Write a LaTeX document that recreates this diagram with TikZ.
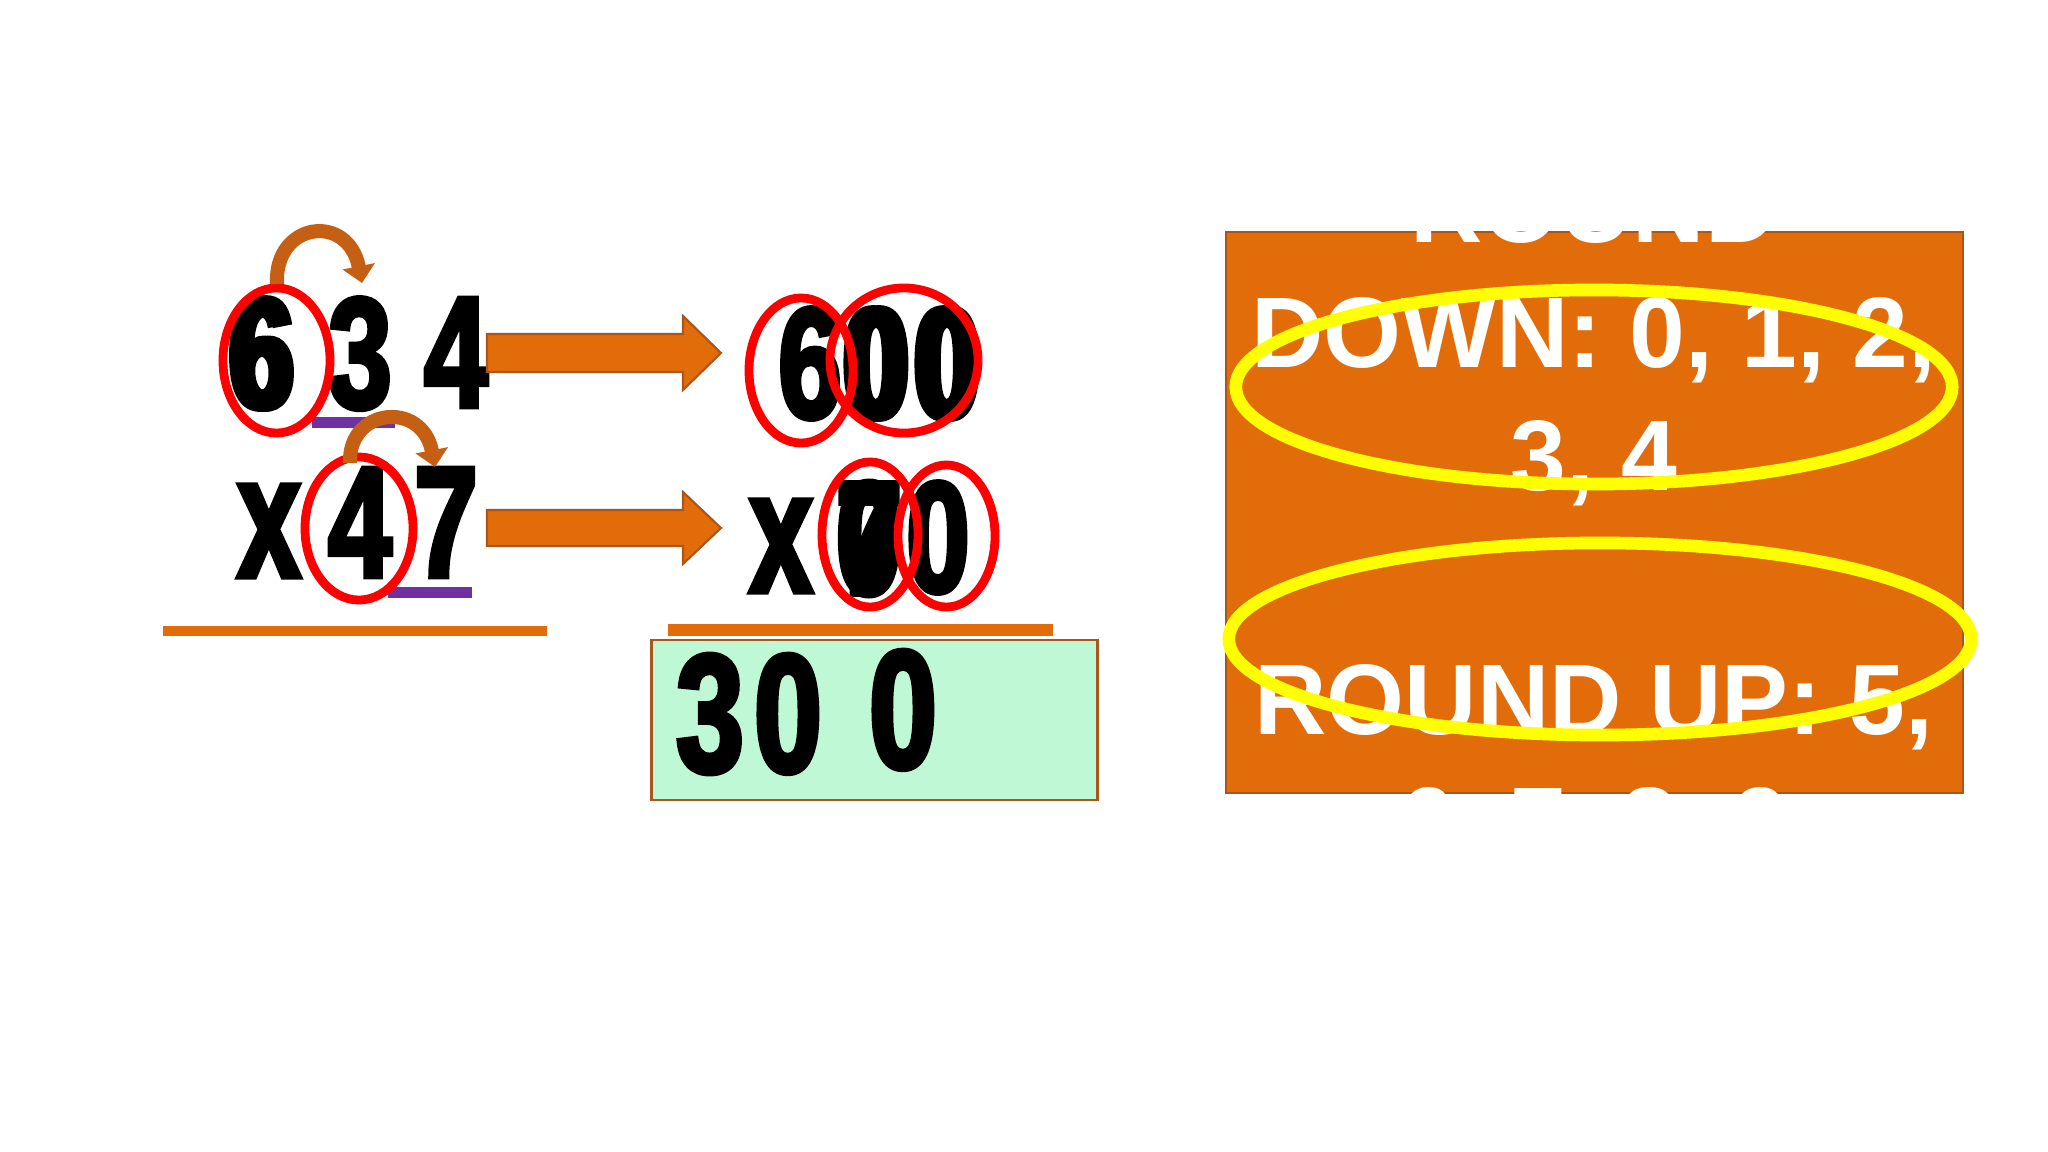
\documentclass[tikz,border=0pt]{standalone}
\usepackage{fontspec}
\usetikzlibrary{arrows.meta,calc}
\newfontfamily\impfont{Liberation Sans}[FakeStretch=0.72, BoldFeatures={FakeBold=3}]
\newfontfamily\impheavy{Liberation Sans}[FakeStretch=0.72, BoldFeatures={FakeBold=5}]
\newfontfamily\arialfont{Liberation Sans}
\definecolor{orng}{RGB}{227,108,10}
\definecolor{orngdark}{RGB}{170,85,25}
\definecolor{brn}{RGB}{197,95,20}
\definecolor{purp}{RGB}{112,48,160}
\definecolor{mint}{RGB}{190,248,212}
\definecolor{yell}{RGB}{255,255,0}
\tikzset{
  dig/.style={font=\impfont\bfseries\fontsize{45}{45}\selectfont, inner sep=0pt, anchor=base, text=black},
  heavydig/.style={dig, font=\impheavy\bfseries\fontsize{45}{45}\selectfont},
  bigdig/.style={dig, font=\impfont\bfseries\fontsize{48}{48}\selectfont},
  rtxt/.style={text=white, font=\arialfont\bfseries\fontsize{28.5}{34}\selectfont, inner sep=0pt, anchor=base},
  redell/.style={draw=red, line width=2.5pt},
  yellell/.style={draw=yell, line width=3.6pt},
  barrow/.style={fill=orng, draw=orngdark, line width=0.6pt},
  curv/.style={draw=brn, line width=4pt, -{Triangle[width=0.32cm,length=0.17cm]}},
  bar/.style={fill=purp},
  rule/.style={fill=orng},
}
\begin{document}
\begin{tikzpicture}[x=0.01cm, y=-0.01cm]
\useasboundingbox (0,0) rectangle (2048,1152);
\fill[white] (0,0) rectangle (2048,1152);

% ---------- left block ----------
\node[dig] (s6) at (259,408) {6};
\node[dig] (d6) at (264,408) {6};
\node[dig] (d3) at (360,408) {3};
\node[dig] (d4) at (456,407) {4};
\node[dig] (lx) at (269,577) {\scalebox{1}[1.1]{x}};
\node[dig] (b4) at (360,577) {4};
\node[dig] (b7) at (446,577) {7};

\fill[bar] (312,417) rectangle (395,428);
\fill[bar] (388,587) rectangle (472,598);

\draw[redell] (276.5,360.5) ellipse [x radius=0.535cm, y radius=0.725cm];
\draw[redell] (359,528.5) ellipse [x radius=0.54cm, y radius=0.715cm];

\coordinate (c1s) at (277,284);
\coordinate (c1e) at (362,283);
\draw[curv] (c1s) .. controls (274,222) and (348,212) .. (c1e);
\coordinate (c2s) at (350,463);
\coordinate (c2e) at (435,467);
\draw[curv] (c2s) .. controls (348,408) and (422,400) .. (c2e);

\fill[rule] (163,626) rectangle (547,636);

% ---------- block arrows ----------
\coordinate (a1s) at (487,353);
\coordinate (a1e) at (721,353);
\path[barrow] (a1s) ++(0,-19) -| ($(a1e)+(-38,-37)$) -- (a1e) -- ($(a1e)+(-38,37)$) |- ($(a1s)+(0,19)$) -- cycle;
\coordinate (a2s) at (487,528);
\coordinate (a2e) at (721,528);
\path[barrow] (a2s) ++(0,-18) -| ($(a2e)+(-38,-36)$) -- (a2e) -- ($(a2e)+(-38,36)$) |- ($(a2s)+(0,18)$) -- cycle;

% ---------- middle block ----------
\node[dig] (sm0a) at (879,418) {0};
\node[dig] (sm0b) at (950,418) {0};
\node[dig] (m6) at (810,418) {6};
\node[dig] (m0a) at (873,418) {0};
\node[dig] (m0b) at (944,418) {0};

\node[dig] (mx) at (781,592) {\scalebox{1}[1.1]{x}};
\node[heavydig] (m0c) at (869,593) {0};
\node[heavydig] (m7) at (869,593) {7};
\node[dig] (m0d) at (938,592) {0};

\draw[redell] (801,370.5) ellipse [x radius=0.52cm, y radius=0.725cm];
\draw[redell] (904,360.5) ellipse [x radius=0.74cm, y radius=0.725cm];
\draw[redell] (870,534.5) ellipse [x radius=0.48cm, y radius=0.725cm];
\draw[redell] (946.5,536) ellipse [x radius=0.485cm, y radius=0.71cm];

\fill[rule] (668,624) rectangle (1053,636);

\node[fill=mint, draw=orngdark, line width=0.8pt, minimum width=4.45cm, minimum height=1.6cm, inner sep=0pt] (res) at (874.5,720) {};
\node[bigdig] (g3) at (710,772) {3};
\node[bigdig] (g0a) at (788,772) {0};
\node[bigdig] (g0b) at (903,768) {0};

% ---------- right box ----------
\path[fill=orng, draw=orngdark, line width=0.6pt] (1226,232) rectangle (1963,793);
\begin{scope}
\clip (1226,232) rectangle (1963,793);
\node[rtxt] (t1) at (1594,243) {ROUND};
\node[rtxt] (t2) at (1594,368) {DOWN: 0, 1, 2,};
\node[rtxt] (t3) at (1594,491) {3, 4};
\node[rtxt] (t4) at (1594,734) {ROUND UP: 5,};
\node[rtxt] (t5) at (1594,857) {6, 7, 8, 9};
\end{scope}
\draw[yellell] (1594,387) ellipse [x radius=3.58cm, y radius=0.97cm];
\draw[yellell] (1600,639) ellipse [x radius=3.71cm, y radius=0.96cm];
\end{tikzpicture}
\end{document}
